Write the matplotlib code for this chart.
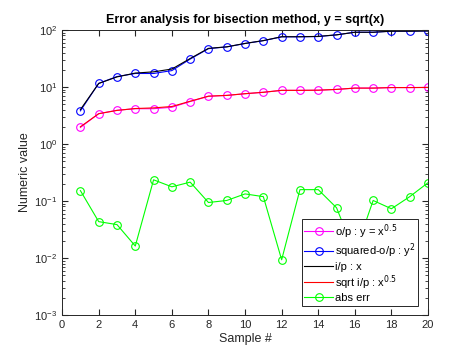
import numpy as np
import matplotlib
matplotlib.use("Agg")
import matplotlib.pyplot as plt

plt.rcParams['font.family'] = ['Liberation Sans', 'DejaVu Sans']

samples = list(range(1, 21))
x_input = [4.0, 11.5, 15.0, 17.5, 18.4, 20.6, 31.5, 47.5, 50.5, 58.0, 65.0,
           76.0, 76.0, 77.0, 82.0, 91.0, 91.0, 95.0, 95.0, 96.0]
y_out = [1.95, 3.4, 3.9, 4.15, 4.15, 4.4, 5.55, 6.85, 7.1, 7.6, 8.05,
         8.7, 8.7, 8.75, 9.05, 9.55, 9.55, 9.75, 9.75, 9.8]
abs_err = [0.152, 0.0434, 0.0385, 0.0162, 0.235, 0.177, 0.214, 0.094, 0.102,
           0.133, 0.119, 0.0093, 0.158, 0.158, 0.076, 0.012, 0.102, 0.073,
           0.119, 0.209]

y_sq = np.array(y_out) ** 2
sqrt_in = np.sqrt(np.array(x_input))

fig = plt.figure(figsize=(4.74, 3.55), dpi=100)
ax = fig.add_axes([0.131, 0.1127, 0.772, 0.803])

mk = dict(marker='o', markersize=5.5, markerfacecolor='none', linewidth=0.8,
          markeredgewidth=0.8)
ax.plot(samples, y_out, color='#ff00ff', label='o/p : y = x$^{0.5}$', **mk)
ax.plot(samples, y_sq, color='#0000ff', label='squared-o/p : y$^2$', **mk)
ax.plot(samples, x_input, color='black', linewidth=0.8, label='i/p : x')
ax.plot(samples, sqrt_in, color='red', linewidth=0.8, label='sqrt i/p : x$^{0.5}$')
ax.plot(samples, abs_err, color='#00ff00', label='abs err', **mk)

ax.set_yscale('log')
ax.set_xlim(0, 20)
ax.set_ylim(1e-3, 1e2)
ax.set_xticks(range(0, 21, 2))
ax.set_yticks([1e-3, 1e-2, 1e-1, 1e0, 1e1, 1e2])
ax.tick_params(which='both', direction='in', top=True, right=True,
               labelsize=8, colors='#262626')
ax.tick_params(which='major', length=4)
ax.tick_params(which='minor', length=2)
for s in ax.spines.values():
    s.set_color('#262626')
    s.set_linewidth(0.7)

ax.set_title('Error analysis for bisection method, y = sqrt(x)',
             fontsize=9, fontweight='bold', pad=5)
ax.set_xlabel('Sample #', fontsize=9, color='#262626', labelpad=2)
ax.set_ylabel('Numeric value', fontsize=9, color='#262626', labelpad=2)

leg = ax.legend(loc='lower right', bbox_to_anchor=(0.973, 0.032), fontsize=8,
                fancybox=False, framealpha=1, edgecolor='#262626',
                handlelength=2.6, handletextpad=0.15, labelspacing=0.12,
                borderpad=0.25, borderaxespad=0)
leg.get_frame().set_linewidth(0.7)

fig.savefig('out.png', dpi=100)
